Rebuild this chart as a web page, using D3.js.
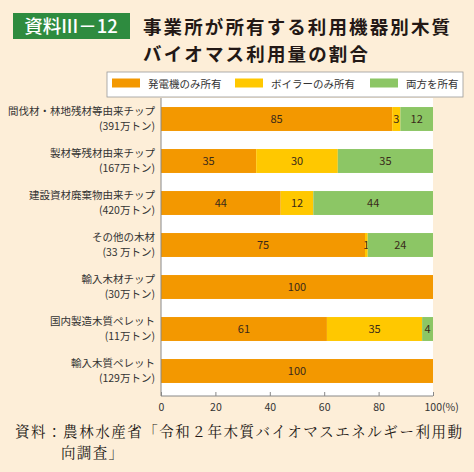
<!DOCTYPE html>
<html><head><meta charset="utf-8">
<script src="https://cdn.jsdelivr.net/npm/d3@7"></script>
<style>
html,body{margin:0;padding:0;background:#fdeed8;}
svg{display:block;font-family:"Noto Sans CJK JP","Noto Sans",sans-serif;}
</style></head>
<body>
<svg id="c" width="474" height="472"></svg>
<script>
const categories = ["間伐材・林地残材等由来チップ","製材等残材由来チップ","建設資材廃棄物由来チップ","その他の木材","輸入木材チップ","国内製造木質ペレット","輸入木質ペレット"];
const amounts = ["(391万トン)","(167万トン)","(420万トン)","(33 万トン)","(30万トン)","(11万トン)","(129万トン)"];
const seriesNames = ["発電機のみ所有","ボイラーのみ所有","両方を所有"];
const generatorOnly = [85,35,44,75,100,61,100];
const boilerOnly = [3,30,12,1,0,35,0];
const both = [12,35,44,24,0,4,0];
const xTicks = [0,20,40,60,80,100];
const colors = ["#f39800","#ffc800","#8cc665"];

const svg = d3.select("#c");
const x = d3.scaleLinear().domain([0,100]).range([161,433]);
const y = d3.scaleBand().domain(categories).range([98,392]).paddingInner(0.43).paddingOuter(0.215);

// Header
svg.append("rect").attr("x",13).attr("y",13).attr("width",117).attr("height",26).attr("fill","#2e8b3f");
svg.append("text").attr("x",71).attr("y",33).attr("text-anchor","middle").attr("fill","#fff")
  .attr("font-size",18.5).attr("font-weight",500).text("資料III－12");
svg.append("text").attr("x",143).attr("y",34).attr("fill","#231815").attr("font-size",18.5).attr("font-weight",700)
  .attr("textLength",307).text("事業所が所有する利用機器別木質");
svg.append("text").attr("x",143).attr("y",61).attr("fill","#231815").attr("font-size",18.5).attr("font-weight",700)
  .attr("textLength",225).text("バイオマス利用量の割合");

// Plot background
svg.append("rect").attr("x",161).attr("y",98).attr("width",272).attr("height",298).attr("fill","#fff");

// Legend
svg.append("rect").attr("x",107).attr("y",72).attr("width",356).attr("height",25).attr("fill","#fff").attr("stroke","#999").attr("stroke-width",0.8);
const legX = [112,235,370];
seriesNames.forEach((n,i)=>{
  svg.append("rect").attr("x",legX[i]).attr("y",78.5).attr("width",28).attr("height",9).attr("fill",colors[i]);
  svg.append("text").attr("x",legX[i]+36).attr("y",87.5).attr("font-size",10.5).attr("fill","#333").text(n);
});

// Stack
const table = categories.map((c,i)=>({cat:c, a:generatorOnly[i], b:boilerOnly[i], c2:both[i]}));
const stack = d3.stack().keys(["a","b","c2"])(table);
const g = svg.append("g");
stack.forEach((layer,li)=>{
  layer.forEach(d=>{
    const w = x(d[1])-x(d[0]);
    if (w<=0) return;
    g.append("rect").attr("x",x(d[0])).attr("y",y(d.data.cat)).attr("width",w).attr("height",y.bandwidth()).attr("fill",colors[li]);
    const v = d[1]-d[0];
    g.append("text").attr("x",(x(d[0])+x(d[1]))/2).attr("y",y(d.data.cat)+y.bandwidth()/2+4)
      .attr("text-anchor","middle").attr("font-size",11).attr("fill","#3a2a1a").text(v);
  });
});

// Axes
const xAxis = d3.axisBottom(x).tickValues(xTicks).tickSize(-4).tickPadding(8).tickFormat(d=>d);
const ax = svg.append("g").attr("transform","translate(0,396)").call(xAxis);
ax.select(".domain").attr("stroke","#888").attr("d","M161,0H433");
ax.selectAll(".tick line").attr("stroke","#888");
ax.selectAll(".tick text").attr("font-size",10.5).attr("fill","#333").attr("font-family","'Noto Sans CJK JP',sans-serif");
ax.selectAll(".tick text").filter(d=>d===100).text("100(%)").attr("text-anchor","start").attr("dx",-9);
svg.append("line").attr("x1",161).attr("x2",161).attr("y1",98).attr("y2",396).attr("stroke","#888");

// Category labels
categories.forEach((c,i)=>{
  const cy = y(c)+y.bandwidth()/2;
  svg.append("text").attr("x",155).attr("y",cy-4).attr("text-anchor","end").attr("font-size",10.5).attr("fill","#333").text(c);
  svg.append("text").attr("x",155).attr("y",cy+11).attr("text-anchor","end").attr("font-size",10.5).attr("fill","#333").text(amounts[i]);
});

// Footer
svg.append("text").attr("x",15).attr("y",437).attr("font-size",14.5).attr("fill","#231815")
  .attr("font-family","'Noto Serif CJK JP','Noto Sans CJK JP',serif").attr("textLength",447)
  .text("資料：農林水産省「令和２年木質バイオマスエネルギー利用動");
svg.append("text").attr("x",61).attr("y",458).attr("font-size",14.5).attr("fill","#231815")
  .attr("font-family","'Noto Serif CJK JP','Noto Sans CJK JP',serif")
  .attr("textLength",62).text("向調査」");
</script>
</body></html>
